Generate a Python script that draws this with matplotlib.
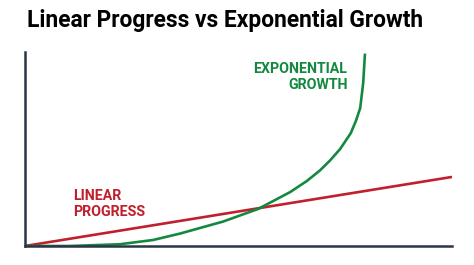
import matplotlib.pyplot as plt

# linear trend (straight line from origin)
linear_x = [0.0, 10.0]
linear_y = [0.0, 3.56]

# exponential curve
exp_x = [0.05, 1.05, 2.22, 3.00, 3.63, 4.10, 4.64, 5.46, 6.21, 6.60, 6.91, 7.14, 7.38, 7.63, 7.75, 7.85, 7.92, 7.96]
exp_y = [0.0, 0.0, 0.09, 0.31, 0.64, 0.93, 1.26, 1.91, 2.78, 3.35, 3.90, 4.40, 5.00, 5.82, 6.45, 7.11, 8.40, 9.85]

red = '#c0202e'
green = '#13893f'
navy = '#2b3548'

fig = plt.figure(figsize=(4.74, 2.65), dpi=100)
ax = fig.add_axes([25 / 474, (265 - 246) / 265, 427 / 474, 194 / 265])

ax.plot(linear_x, linear_y, color=red, lw=1.9, solid_capstyle='butt')
ax.plot(exp_x, exp_y, color=green, lw=1.9, solid_joinstyle='round')

ax.set_xlim(0, 10)
ax.set_ylim(0, 10)
ax.set_xticks([])
ax.set_yticks([])
for s in ['top', 'right']:
    ax.spines[s].set_visible(False)
for s in ['left', 'bottom']:
    ax.spines[s].set_color(navy)
    ax.spines[s].set_linewidth(1.8)

ax.text(1.12, 2.16, 'LINEAR\nPROGRESS', color=red, fontsize=10.2, fontweight='bold',
        family='Roboto', ha='left', va='center', linespacing=1.15)
ax.text(7.55, 8.72, 'EXPONENTIAL\nGROWTH', color=green, fontsize=10.2, fontweight='bold',
        family='Roboto', ha='right', va='center', linespacing=1.15, multialignment='right')

fig.text(27 / 474, 1 - 20 / 265, 'Linear Progress vs Exponential Growth', fontsize=16.4,
         fontweight='bold', family='Roboto', ha='left', va='center')

fig.savefig('out.png', dpi=100)
